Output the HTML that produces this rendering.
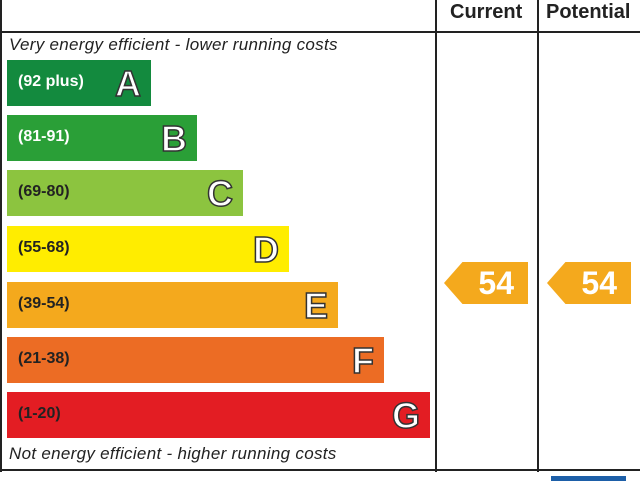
<!DOCTYPE html><html><head><style>
body{margin:0;width:640px;height:479px;background:#fff;position:relative;overflow:hidden;font-family:"Liberation Sans",sans-serif}
.l{position:absolute;background:#222}
.b{position:absolute;left:7px;height:46px;color:#fff;font-size:16px;font-weight:bold}
.b span{position:absolute;left:11px;top:13px}
.b i{position:absolute;right:10px;top:3px;font-style:normal;font-weight:bold;font-size:36px;color:#fff;-webkit-text-stroke:1.5px #333}
.t{position:absolute;font-style:italic;font-size:17px;color:#222;left:9px;letter-spacing:0.3px}
.h{position:absolute;top:1px;font-weight:bold;font-size:20px;color:#222}
.ar{position:absolute;top:262px;height:42px;width:84px;background:#f4a91d;clip-path:polygon(22% 0,100% 0,100% 100%,22% 100%,0 50%);color:#fff;font-weight:bold;font-size:32px;text-align:right;box-sizing:border-box;line-height:42px}
</style></head><body>
<div class="l" style="left:0;top:0;width:2px;height:472px"></div>
<div class="l" style="left:435px;top:0;width:2px;height:472px"></div>
<div class="l" style="left:537px;top:0;width:2px;height:472px"></div>
<div class="l" style="left:0;top:31px;width:640px;height:2px"></div>
<div class="l" style="left:0;top:469px;width:640px;height:2px"></div>
<div style="position:absolute;left:551px;top:476px;width:75px;height:5px;background:#1d5fa8"></div>
<div class="h" style="left:450px">Current</div>
<div class="h" style="left:546px">Potential</div>
<div class="t" style="top:35px">Very energy efficient - lower running costs</div>
<div class="t" style="top:444px">Not energy efficient - higher running costs</div>
<div class="b" style="top:60px;width:144px;background:#138a3e"><span>(92 plus)</span><i>A</i></div>
<div class="b" style="top:115px;width:190px;background:#2a9f37"><span>(81-91)</span><i>B</i></div>
<div class="b" style="top:170px;width:236px;background:#8cc43f;color:#222"><span>(69-80)</span><i>C</i></div>
<div class="b" style="top:226px;width:282px;background:#ffed00;color:#222"><span>(55-68)</span><i>D</i></div>
<div class="b" style="top:282px;width:331px;background:#f4a91d;color:#222"><span>(39-54)</span><i>E</i></div>
<div class="b" style="top:337px;width:377px;background:#ec6c24;color:#222"><span>(21-38)</span><i>F</i></div>
<div class="b" style="top:392px;width:423px;background:#e31d23;color:#222"><span>(1-20)</span><i>G</i></div>
<div class="ar" style="left:444px;padding-right:14px">54</div>
<div class="ar" style="left:547px;padding-right:14px">54</div>
</body></html>
